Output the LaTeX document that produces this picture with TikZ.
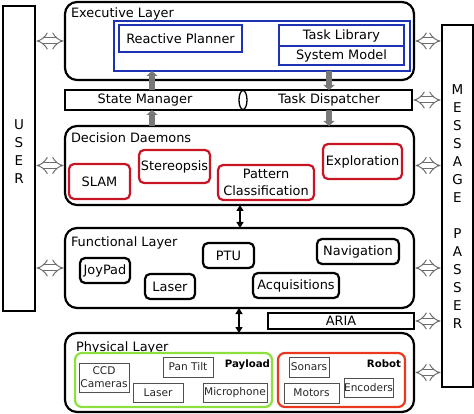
\documentclass[tikz,border=0pt]{standalone}
\usepackage{fontspec}
\setmainfont{DejaVu Sans}
\usetikzlibrary{arrows.meta,shapes.geometric}
\definecolor{exblue}{RGB}{30,50,180}
\definecolor{ddred}{RGB}{200,20,35}
\definecolor{plgreen}{RGB}{140,225,60}
\definecolor{rbred}{RGB}{235,55,30}
\definecolor{hwgray}{RGB}{80,80,80}
\definecolor{fatgray}{RGB}{120,120,120}
\definecolor{dblgray}{RGB}{110,110,110}
\tikzset{
  every node/.style={inner sep=0pt, outer sep=0pt, font=\fontsize{12.9}{17}\selectfont},
  layerbox/.style={draw=black, line width=2.2pt, rounded corners=12pt},
  sidebox/.style={draw=black, line width=2.2pt},
  bandbox/.style={draw=black, line width=1.6pt},
  bluebox/.style={draw=exblue, line width=2.2pt},
  daemon/.style={draw=ddred, line width=2.2pt, rounded corners=5pt, align=center, font=\fontsize{12.9}{17}\selectfont},
  module/.style={draw=black, line width=2.2pt, rounded corners=5pt},
  hwbox/.style={draw=hwgray, line width=1pt, align=center, text=black!85, font=\fontsize{10.6}{13}\selectfont},
  groupbox/.style={line width=2.2pt, rounded corners=7pt},
  title/.style={anchor=base west},
  grouptitle/.style={anchor=base east, font=\fontsize{10.2}{12}\selectfont\bfseries},
  fatarrow/.style={draw=fatgray, line width=6pt, -{Triangle[width=11pt,length=5pt]}},
  linkarrow/.style={draw=black, line width=1.3pt, {Triangle[width=7pt,length=6pt]}-{Triangle[width=7pt,length=6pt]}},
  msgarrow/.style={draw=dblgray, double=white, double distance=5pt, line width=1pt, {Implies[length=7pt,width=17pt]}-{Implies[length=7pt,width=17pt]}, shorten <=1.5pt, shorten >=1.5pt},
}
\begin{document}
\begin{tikzpicture}[x=1pt,y=-1pt]
\useasboundingbox (0,0) rectangle (474,414);

% side boxes
\node[sidebox, minimum width=32pt, minimum height=305pt] (user) at (19,158.5) {};
\node[align=center, font=\fontsize{13.5}{18}\selectfont] (usertext) at (19,152) {U\\S\\E\\R};
\node[sidebox, minimum width=31pt, minimum height=362pt] (mp) at (457.5,206) {};
\node[align=center, font=\fontsize{13.5}{18}\selectfont] (mptext) at (457.5,206.5) {M\\E\\S\\S\\A\\G\\E\\[18pt]P\\A\\S\\S\\E\\R};

% executive layer
\node[layerbox, minimum width=349pt, minimum height=78pt] (exec) at (239.5,41) {};
\node[title] (exectitle) at (71,18) {Executive Layer};
\node[bluebox, minimum width=296pt, minimum height=50pt] (blue) at (262,46) {};
\node[bluebox, minimum width=123pt, minimum height=27pt] (rp) at (180.5,38.5) {Reactive Planner};
\node[bluebox, minimum width=125pt, minimum height=21pt] (tl) at (341.5,35.5) {Task Library};
\node[bluebox, minimum width=125pt, minimum height=19pt] (smod) at (341.5,55.5) {System Model};

% state manager / task dispatcher band
\node[bandbox, minimum width=347pt, minimum height=20pt] (sm) at (238.5,100) {};
\node (smtext) at (145,100) {State Manager};
\node (tdtext) at (329,100) {Task Dispatcher};
\node[draw=black, line width=1.3pt, ellipse, minimum width=8pt, minimum height=19pt] (sep) at (243,100) {};

% decision daemons
\node[layerbox, minimum width=349pt, minimum height=79pt] (dd) at (239.5,165.5) {};
\node[title] (ddtitle) at (71,143) {Decision Daemons};
\node[daemon, minimum width=61pt, minimum height=35pt] (slam) at (99.5,181.5) {SLAM};
\node[daemon, minimum width=71pt, minimum height=33pt] (stereo) at (174.5,166.5) {Stereopsis};
\node[daemon, minimum width=96pt, minimum height=35pt] (pattern) at (266,182.5) {Pattern\\Classification};
\node[daemon, minimum width=79pt, minimum height=35pt] (explo) at (362.5,161.5) {Exploration};

% functional layer
\node[layerbox, minimum width=349pt, minimum height=80pt] (func) at (239.5,268) {};
\node[title] (functitle) at (71,247) {Functional Layer};
\node[module, minimum width=50pt, minimum height=25pt] (joy) at (105,270.5) {JoyPad};
\node[module, minimum width=50pt, minimum height=25pt] (laser) at (170,286.5) {Laser};
\node[module, minimum width=51pt, minimum height=25pt] (ptu) at (228.5,255.5) {PTU};
\node[module, minimum width=82pt, minimum height=25pt] (nav) at (358,251.5) {Navigation};
\node[module, minimum width=86pt, minimum height=25pt] (acq) at (296,285.5) {Acquisitions};

% ARIA
\node[bandbox, minimum width=146pt, minimum height=16pt] (aria) at (341,321) {ARIA};

% physical layer
\node[layerbox, minimum width=349pt, minimum height=79pt] (phys) at (239.5,372.5) {};
\node[title] (phystitle) at (76,351) {Physical Layer};
\node[groupbox, draw=plgreen, minimum width=197pt, minimum height=54pt] (payload) at (173.5,380) {};
\node[grouptitle] (payloadtitle) at (270,367) {Payload};
\node[groupbox, draw=rbred, minimum width=127pt, minimum height=54pt] (robot) at (341.5,380) {};
\node[grouptitle] (robottitle) at (401,367) {Robot};
\node[hwbox, minimum width=50pt, minimum height=29pt] (ccd) at (104,377.5) {CCD\\Cameras};
\node[hwbox, minimum width=50pt, minimum height=20pt] (pan) at (188,367) {Pan Tilt};
\node[hwbox, minimum width=50pt, minimum height=19pt] (laserhw) at (158,392.5) {Laser};
\node[hwbox, minimum width=64pt, minimum height=19pt] (mic) at (235,392.5) {Microphone};
\node[hwbox, minimum width=40pt, minimum height=20pt] (sonars) at (309,367) {Sonars};
\node[hwbox, minimum width=55pt, minimum height=20pt] (motors) at (311.5,393) {Motors};
\node[hwbox, minimum width=49pt, minimum height=19pt] (enc) at (368.5,387.5) {Encoders};

% arrow columns
\coordinate (gl) at (152,0);
\coordinate (gr) at (329,0);
\coordinate (ax) at (240,0);
\coordinate (bx) at (239,0);

% fat gray arrows
\draw[fatarrow] (sm.north -| gl) -- (blue.south -| gl);
\draw[fatarrow] (dd.north -| gl) -- (sm.south -| gl);
\draw[fatarrow] (blue.south -| gr) -- (sm.north -| gr);
\draw[fatarrow] (sm.south -| gr) -- (dd.north -| gr);

% black links between layers
\draw[linkarrow] (dd.south -| ax) -- (func.north -| ax);
\draw[linkarrow] (func.south -| bx) -- (phys.north -| bx);

% message arrows, left
\draw[msgarrow] (user.east |- exec.west) -- (exec.west);
\draw[msgarrow] (user.east |- dd.west) -- (dd.west);
\draw[msgarrow] (user.east |- func.west) -- (func.west);
% message arrows, right
\draw[msgarrow] (exec.east) -- (mp.west |- exec.east);
\draw[msgarrow] (sm.east) -- (mp.west |- sm.east);
\draw[msgarrow] (dd.east) -- (mp.west |- dd.east);
\draw[msgarrow] (func.east) -- (mp.west |- func.east);
\draw[msgarrow] (aria.east) -- (mp.west |- aria.east);
\draw[msgarrow] (phys.east) -- (mp.west |- phys.east);
\end{tikzpicture}
\end{document}
